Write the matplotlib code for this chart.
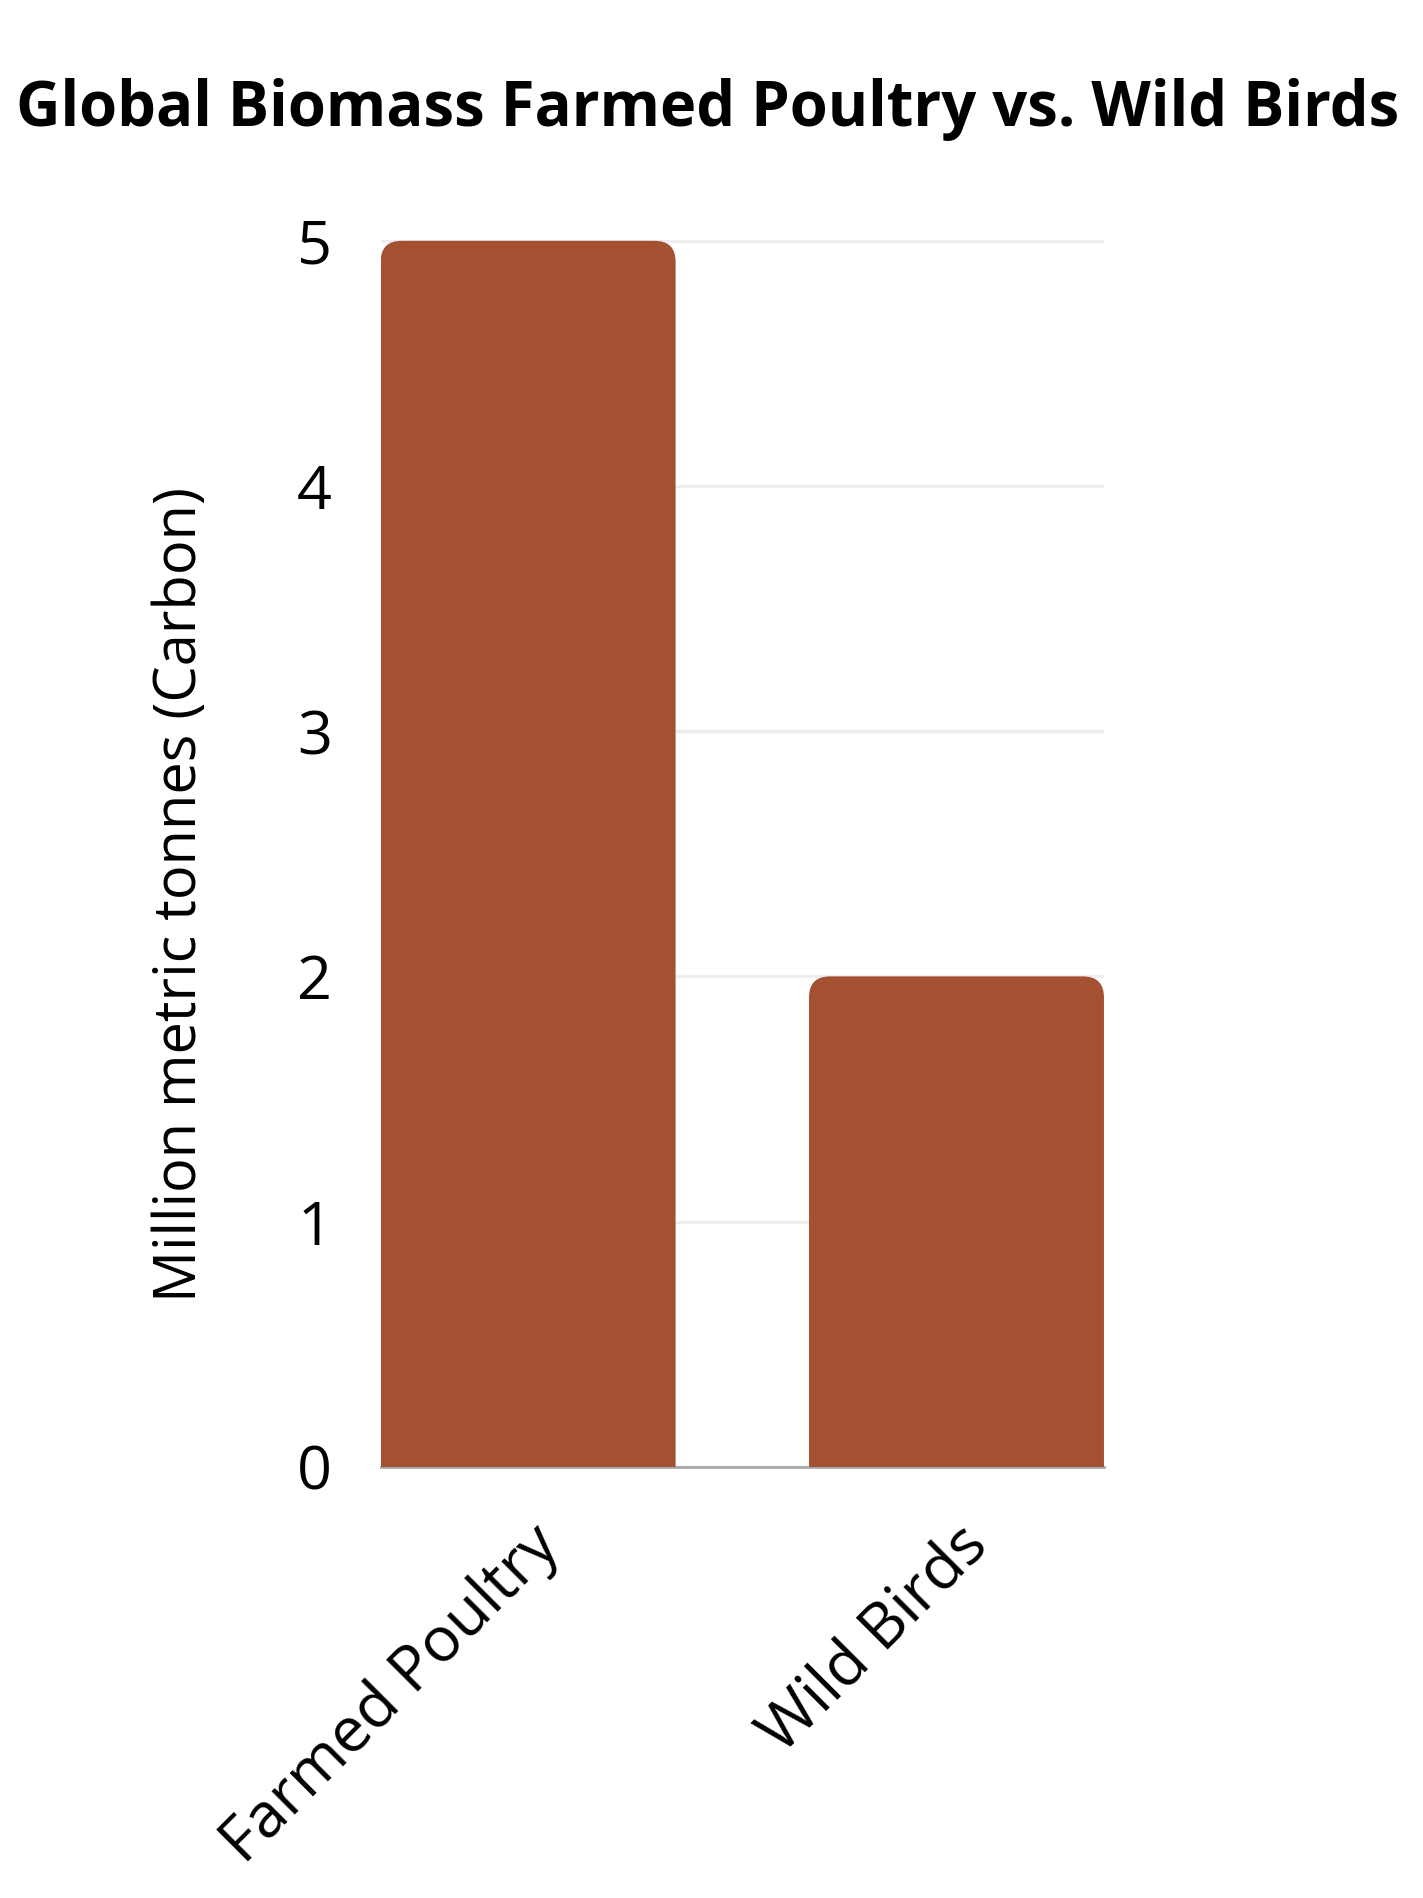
import matplotlib
matplotlib.use('Agg')
import matplotlib.pyplot as plt
from matplotlib.patches import FancyBboxPatch

categories = ["Farmed Poultry", "Wild Birds"]
biomass = [5, 2]
yticks = [0, 1, 2, 3, 4, 5]

bar_color = "#A35033"
bar_width = 0.6885
plt.rcParams['font.family'] = ['Open Sans', 'DejaVu Sans']

fig = plt.figure(figsize=(14.23, 18.98), dpi=100)
ax = fig.add_axes([0.2675, 0.2272, 0.5083, 0.6498])

x = list(range(len(categories)))
bars = ax.bar(x, biomass, width=bar_width, color=bar_color, zorder=2)
ax.set_xlim(-bar_width / 2, len(categories) - 1 + bar_width / 2)
ax.set_ylim(0, 5.03)

# rounded tops: swap each bar for a rounded box whose lower corners sit
# below the axis and get clipped away
fig.canvas.draw()
px_per_x = ax.transData.transform((1, 0))[0] - ax.transData.transform((0, 0))[0]
px_per_y = ax.transData.transform((0, 1))[1] - ax.transData.transform((0, 0))[1]
radius_px = 21
for b in bars:
    b.set_visible(False)
    bx, bw, bh = b.get_x(), b.get_width(), b.get_height()
    r = radius_px / px_per_x
    drop = 3 * radius_px / px_per_y
    ax.add_patch(FancyBboxPatch((bx, -drop), bw, bh + drop,
                                boxstyle="round,pad=0,rounding_size=%f" % r,
                                mutation_aspect=px_per_x / px_per_y,
                                fc=bar_color, ec="none", zorder=2))

ax.set_yticks(yticks)
ax.set_yticklabels([str(t) for t in yticks], fontsize=44)
ax.set_xticks(x)
ax.set_xticklabels(categories, fontsize=45, rotation=45, ha='right',
                   rotation_mode='anchor')
ax.tick_params(axis='y', length=0, pad=35)
ax.tick_params(axis='x', length=0, pad=34)
ax.grid(axis='y', color='#eeeeee', linewidth=2.5, zorder=0)
ax.set_axisbelow(True)
for s in ['top', 'right', 'left']:
    ax.spines[s].set_visible(False)
ax.spines['bottom'].set_color('#a8a8a8')
ax.spines['bottom'].set_linewidth(2)
ax.spines['bottom'].set_zorder(1)

ax.set_ylabel("Million metric tonnes (Carbon)", fontsize=41.6)
ax.yaxis.label.set_va('center')
ax.yaxis.set_label_coords(-0.2757, 0.464)
fig.text(0.497, 1 - 126 / 1898, "Global Biomass Farmed Poultry vs. Wild Birds",
         fontsize=44.3, fontweight='bold', ha='center', va='baseline')

fig.savefig("out.png", dpi=100, facecolor='white')
